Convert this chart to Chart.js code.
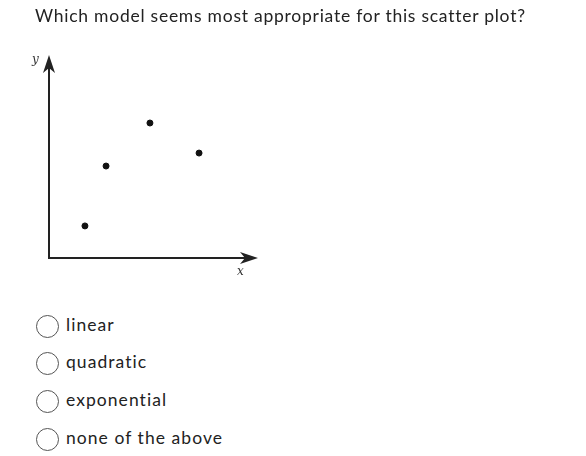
<!DOCTYPE html>
<html><head><meta charset="utf-8">
<script src="https://cdn.jsdelivr.net/npm/chart.js@4/dist/chart.umd.min.js"></script>
<style>
body{margin:0;background:#fff;font-family:Lato,"Open Sans",sans-serif;color:#222;}
#wrap{position:relative;width:586px;height:456px;}
#c{position:absolute;left:0;top:0;}
.q{position:absolute;left:35px;top:5px;font-size:17.5px;white-space:nowrap;letter-spacing:0.75px;}
.opt{position:absolute;left:36px;font-size:17.5px;white-space:nowrap;letter-spacing:1.05px;}
.opt span.r{display:inline-block;width:21px;height:21px;border:1px solid #555;border-radius:50%;vertical-align:middle;margin-right:7px;}
.lab{position:absolute;font-family:"DejaVu Serif",serif;font-style:italic;font-size:12px;color:#333;}
</style></head><body>
<div id="wrap">
<canvas id="c" width="586" height="300" style="width:586px;height:300px"></canvas>
<div class="q">Which model seems most appropriate for this scatter plot?</div>
<div class="lab" style="left:32px;top:52px">y</div>
<div class="lab" style="left:237px;top:264px">x</div>
<div class="opt" style="top:314px"><span class="r"></span>linear</div>
<div class="opt" style="top:351px"><span class="r"></span>quadratic</div>
<div class="opt" style="top:389px"><span class="r"></span>exponential</div>
<div class="opt" style="top:427px"><span class="r"></span>none of the above</div>
</div>
<script>
const xValues=[1.72,2.73,4.83,7.18];
const yValues=[1.58,4.53,6.65,5.17];
const axesPlugin={id:'axes',beforeDatasetsDraw(ch){
 const {ctx,chartArea:a}=ch;ctx.save();ctx.strokeStyle='#222';ctx.fillStyle='#222';ctx.lineWidth=2;
 ctx.beginPath();ctx.moveTo(a.left,a.top+10);ctx.lineTo(a.left,a.bottom);ctx.lineTo(a.right-12,a.bottom);ctx.stroke();
 ctx.beginPath();ctx.moveTo(a.left,a.top);ctx.lineTo(a.left-6,a.top+18);ctx.lineTo(a.left,a.top+13);ctx.lineTo(a.left+6,a.top+18);ctx.closePath();ctx.fill();
 ctx.beginPath();ctx.moveTo(a.right,a.bottom);ctx.lineTo(a.right-18,a.bottom-6);ctx.lineTo(a.right-13,a.bottom);ctx.lineTo(a.right-18,a.bottom+6);ctx.closePath();ctx.fill();
 ctx.restore();}};
new Chart(document.getElementById('c'),{type:'scatter',
 data:{datasets:[{data:xValues.map((x,i)=>({x,y:yValues[i]})),backgroundColor:'#111',borderColor:'#111',pointRadius:3}]},
 options:{responsive:false,animation:false,layout:{padding:{left:49,top:55,right:328,bottom:42}},
  plugins:{legend:{display:false},tooltip:{enabled:false}},
  scales:{x:{display:false,min:0,max:10},y:{display:false,min:0,max:10}}},
 plugins:[axesPlugin]});
</script>
</body></html>
